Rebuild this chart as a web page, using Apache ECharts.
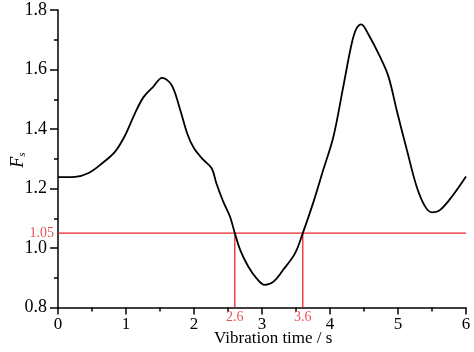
<!DOCTYPE html>
<html><head><meta charset="utf-8">
<script src="https://cdn.jsdelivr.net/npm/echarts@6/dist/echarts.min.js"></script>
<style>html,body{margin:0;padding:0;background:#fff}#c{width:474px;height:352px}</style>
</head><body><div id="c"></div>
<script>
var times = [0,0.25,0.45,0.64,0.84,0.99,1.13,1.26,1.40,1.53,1.67,1.79,1.90,2.00,2.14,2.26,2.33,2.43,2.53,2.60,2.68,2.80,2.92,3.04,3.17,3.31,3.485,3.60,3.75,3.90,4.05,4.195,4.32,4.39,4.46,4.56,4.735,4.86,4.98,5.13,5.275,5.40,5.50,5.62,5.81,6.00];
var fs = [1.238,1.239,1.252,1.283,1.324,1.38,1.452,1.508,1.542,1.572,1.548,1.47,1.385,1.335,1.296,1.268,1.217,1.156,1.105,1.05,0.993,0.937,0.898,0.876,0.887,0.926,0.982,1.05,1.15,1.262,1.374,1.542,1.688,1.738,1.752,1.72,1.643,1.576,1.464,1.33,1.206,1.139,1.12,1.128,1.178,1.24];
var threshold = 1.05;
var crossTimes = [2.6, 3.6];
var xTicks = [0,1,2,3,4,5,6];
var yTicks = [0.8,1.0,1.2,1.4,1.6,1.8];

var chart = echarts.init(document.getElementById('c'), null, {renderer:'canvas'});
var font = 'Liberation Serif';
var red = '#e8262a';
var curve = times.map(function(t,i){return [t, fs[i]];});
var series = [{
  type:'line', data:curve, smooth:0.35, symbol:'none',
  lineStyle:{color:'#000', width:1.8}, z:3
},{
  type:'line', data:[[xTicks[0],threshold],[xTicks[xTicks.length-1],threshold]], symbol:'none',
  lineStyle:{color:red, width:1.3}, z:2
}];
crossTimes.forEach(function(t){
  series.push({type:'line', data:[[t,threshold],[t,yTicks[0]]], symbol:'none',
    lineStyle:{color:red, width:1.3}, z:2});
});
series.push({
  type:'scatter', symbolSize:0, z:4,
  data: crossTimes.map(function(t){return {value:[t,yTicks[0]], label:{position:'bottom', distance:3, formatter:String(t)}};})
    .concat([{value:[0,threshold], label:{position:'left', distance:4, formatter:String(threshold)}}]),
  label:{show:true, color:red, fontFamily:font, fontSize:14}
});
chart.setOption({
  animation:false,
  grid:{left:58, right:8, top:10, bottom:44.5, containLabel:false, outerBoundsMode:'none'},
  xAxis:{type:'value', min:0, max:6, interval:1,
    axisLine:{lineStyle:{color:'#000', width:1.5}},
    axisTick:{length:7, lineStyle:{color:'#000', width:1.5}},
    minorTick:{show:true, splitNumber:2, length:4, lineStyle:{color:'#000', width:1.5}},
    splitLine:{show:false},
    axisLabel:{color:'#000', fontFamily:font, fontSize:17, margin:9}
  },
  yAxis:{type:'value', min:0.8, max:1.8, interval:0.2,
    axisLine:{show:true, lineStyle:{color:'#000', width:1.5}},
    axisTick:{length:8, lineStyle:{color:'#000', width:1.5}},
    minorTick:{show:true, splitNumber:2, length:4, lineStyle:{color:'#000', width:1.5}},
    splitLine:{show:false},
    axisLabel:{color:'#000', fontFamily:font, fontSize:18, margin:11, formatter:function(v){return v.toFixed(1);}}
  },
  graphic:[
    {type:'text', left:214, top:330, style:{text:'Vibration time / s', fontFamily:font, fontSize:17, fill:'#000'}},
    {type:'text', x:18, y:160, rotation:Math.PI/2, style:{text:'{a|F}{b|s}', align:'center', verticalAlign:'middle',
      rich:{a:{fontFamily:font, fontStyle:'italic', fontSize:18, fill:'#000'}, b:{fontFamily:font, fontStyle:'italic', fontSize:11, fill:'#000', padding:[8,0,0,0]}}}}
  ],
  series:series
});
</script></body></html>
